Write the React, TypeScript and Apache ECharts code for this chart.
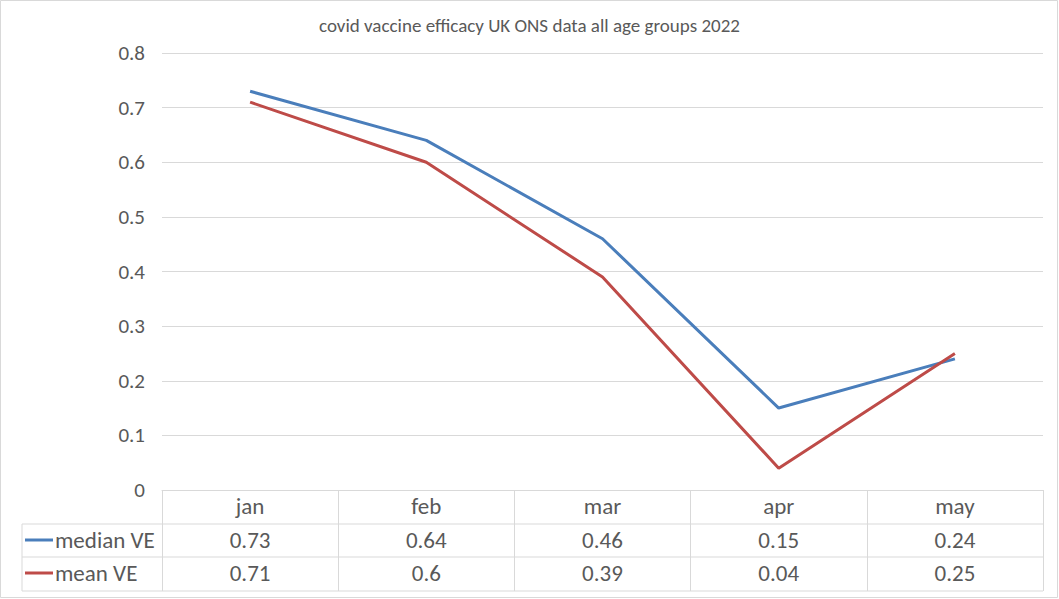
import React, { useEffect, useRef } from 'react';
import * as echarts from 'echarts';

const months = ['jan', 'feb', 'mar', 'apr', 'may'];
const medianVE = [0.73, 0.64, 0.46, 0.15, 0.24];
const meanVE = [0.71, 0.6, 0.39, 0.04, 0.25];

const GRID = '#d9d9d9';
const TEXT = '#595959';
const FONT = 'Carlito, Lato, sans-serif';
const LINE_ICON = 'path://M0,0 L28,0 L28,3 L0,3 Z';

const App: React.FC = () => {
  const chartRef = useRef<HTMLDivElement>(null);

  useEffect(() => {
    document.body.style.margin = '0';
    if (!chartRef.current) return;
    const chart = echarts.init(chartRef.current, null, { renderer: 'svg' });

    // extra category axes under the plot carry the data-table rows
    const valueAxis = (offset: number, values: number[], index: number) => ({
      type: 'category' as const,
      position: 'bottom' as const,
      offset,
      gridIndex: 0,
      data: values.map((v) => String(v)),
      axisLine: { show: false },
      axisTick: { show: false },
      axisLabel: { color: TEXT, fontSize: 23, fontFamily: FONT, margin: 4, interval: 0 },
      id: 'vals' + index,
    });

    chart.setOption({
      animation: false,
      title: {
        text: 'covid vaccine efficacy UK ONS data all age groups 2022',
        left: 'center',
        top: 11,
        textStyle: { color: TEXT, fontSize: 19, fontWeight: 'normal', fontFamily: FONT },
      },
      grid: { left: 162, right: 16, top: 53, bottom: 109 },
      legend: {
        orient: 'vertical',
        left: 20,
        top: 522,
        itemGap: 7,
        itemWidth: 28,
        itemHeight: 3,
        textStyle: { color: TEXT, fontSize: 23, fontFamily: FONT, lineHeight: 26, padding: [0, 0, 0, -3] },
        data: [
          { name: 'median VE', icon: LINE_ICON },
          { name: 'mean VE', icon: LINE_ICON },
        ],
      },
      xAxis: [
        {
          type: 'category',
          data: months,
          boundaryGap: true,
          axisLine: { lineStyle: { color: GRID, width: 1 } },
          axisTick: { show: true, length: 101, lineStyle: { color: GRID } },
          axisLabel: { color: TEXT, fontSize: 23, fontFamily: FONT, margin: 4 },
        },
        valueAxis(34, medianVE, 1),
        valueAxis(67, meanVE, 2),
      ],
      yAxis: {
        type: 'value',
        min: 0,
        max: 0.8,
        interval: 0.1,
        axisLine: { show: false },
        axisTick: { show: false },
        axisLabel: {
          color: TEXT,
          fontSize: 21,
          fontFamily: FONT,
          margin: 17,
          formatter: (v: number) => String(Math.round(v * 10) / 10),
        },
        splitLine: { lineStyle: { color: GRID, width: 1 } },
      },
      series: [
        {
          name: 'median VE',
          type: 'line',
          data: medianVE,
          symbol: 'none',
          lineStyle: { color: '#4a7ebb', width: 3 },
          itemStyle: { color: '#4a7ebb' },
        },
        {
          name: 'mean VE',
          type: 'line',
          data: meanVE,
          symbol: 'none',
          lineStyle: { color: '#be4b48', width: 3 },
          itemStyle: { color: '#be4b48' },
        },
      ],
      graphic: [
        {
          type: 'rect',
          shape: { x: 0.5, y: 0.5, width: 1057, height: 597 },
          style: { fill: 'none', stroke: GRID, lineWidth: 1 },
        },
        { type: 'line', shape: { x1: 22, y1: 524, x2: 1043, y2: 524 }, style: { stroke: GRID, lineWidth: 1 } },
        { type: 'line', shape: { x1: 22, y1: 557, x2: 1043, y2: 557 }, style: { stroke: GRID, lineWidth: 1 } },
        { type: 'line', shape: { x1: 22, y1: 591, x2: 1043, y2: 591 }, style: { stroke: GRID, lineWidth: 1 } },
        { type: 'line', shape: { x1: 22, y1: 524, x2: 22, y2: 591 }, style: { stroke: GRID, lineWidth: 1 } },
      ],
    });

    return () => {
      chart.dispose();
    };
  }, []);

  return <div ref={chartRef} style={{ width: 1059, height: 599 }}></div>;
};

export default App;
